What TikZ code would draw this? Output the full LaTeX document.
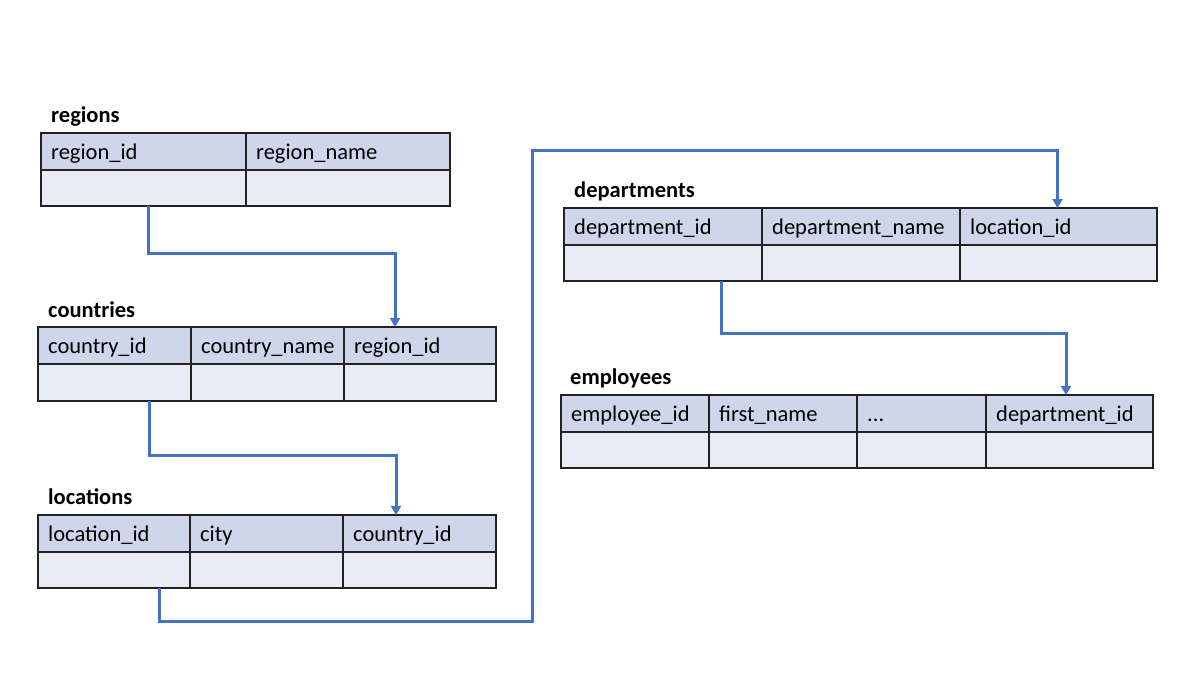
\documentclass[tikz,border=0pt]{standalone}
\usepackage{fontspec}
\setmainfont{Carlito}
\usetikzlibrary{arrows.meta}
\definecolor{hdr}{HTML}{CFD5EA}
\definecolor{bdy}{HTML}{E9EBF5}
\definecolor{fkblue}{HTML}{4472C4}
\definecolor{edgecol}{HTML}{222222}
\newcommand{\mkcell}[6]{\node[#2, minimum width={(#5-#3)*1pt}, minimum height={(#6-#4)*1pt}] (#1) at (#3,#4) {};}
\newcommand{\mktxt}[2]{\node[txt] (#1-t) at ([xshift=10pt,yshift=-26.5pt]#1.north west) {#2};}
\begin{document}
\begin{tikzpicture}[x=1pt,y=-1pt,
  cell/.style={draw=edgecol, line width=1.3pt, anchor=north west, inner sep=0pt, outer sep=0pt},
  hcell/.style={cell, fill=hdr},
  bcell/.style={cell, fill=bdy},
  txt/.style={anchor=base west, inner sep=0pt, font=\fontsize{22.5}{27}\selectfont, text=black},
  ttl/.style={anchor=base west, inner sep=0pt, font=\fontsize{22.5}{27}\selectfont\bfseries, text=black},
  fklink/.style={draw=fkblue, line width=3pt, line join=miter, -{Triangle[width=10pt,length=9pt]}}]
\useasboundingbox (0,0) rectangle (1200,675);

% regions
\node[ttl] (t-regions) at (51,122) {regions};
\mkcell{r-h1}{hcell}{41}{133}{246}{170}
\mkcell{r-h2}{hcell}{246}{133}{450}{170}
\mkcell{r-b1}{bcell}{41}{170}{246}{206}
\mkcell{r-b2}{bcell}{246}{170}{450}{206}
\mktxt{r-h1}{region\_id}
\mktxt{r-h2}{region\_name}

% countries
\node[ttl] (t-countries) at (48,317) {countries};
\mkcell{c-h1}{hcell}{38}{327}{191}{364}
\mkcell{c-h2}{hcell}{191}{327}{344}{364}
\mkcell{c-h3}{hcell}{344}{327}{496}{364}
\mkcell{c-b1}{bcell}{38}{364}{191}{401}
\mkcell{c-b2}{bcell}{191}{364}{344}{401}
\mkcell{c-b3}{bcell}{344}{364}{496}{401}
\mktxt{c-h1}{country\_id}
\mktxt{c-h2}{country\_name}
\mktxt{c-h3}{region\_id}

% locations
\node[ttl] (t-locations) at (48,504) {locations};
\mkcell{l-h1}{hcell}{38}{515}{190}{552}
\mkcell{l-h2}{hcell}{190}{515}{343}{552}
\mkcell{l-h3}{hcell}{343}{515}{496}{552}
\mkcell{l-b1}{bcell}{38}{552}{190}{588}
\mkcell{l-b2}{bcell}{190}{552}{343}{588}
\mkcell{l-b3}{bcell}{343}{552}{496}{588}
\mktxt{l-h1}{location\_id}
\mktxt{l-h2}{city}
\mktxt{l-h3}{country\_id}

% departments
\node[ttl] (t-departments) at (574,197) {departments};
\mkcell{d-h1}{hcell}{564}{208}{762}{245}
\mkcell{d-h2}{hcell}{762}{208}{960}{245}
\mkcell{d-h3}{hcell}{960}{208}{1157}{245}
\mkcell{d-b1}{bcell}{564}{245}{762}{281}
\mkcell{d-b2}{bcell}{762}{245}{960}{281}
\mkcell{d-b3}{bcell}{960}{245}{1157}{281}
\mktxt{d-h1}{department\_id}
\mktxt{d-h2}{department\_name}
\mktxt{d-h3}{location\_id}

% employees
\node[ttl] (t-employees) at (570,384) {employees};
\mkcell{e-h1}{hcell}{561}{395}{709}{432}
\mkcell{e-h2}{hcell}{709}{395}{857}{432}
\mkcell{e-h3}{hcell}{857}{395}{986}{432}
\mkcell{e-h4}{hcell}{986}{395}{1153}{432}
\mkcell{e-b1}{bcell}{561}{432}{709}{468}
\mkcell{e-b2}{bcell}{709}{432}{857}{468}
\mkcell{e-b3}{bcell}{857}{432}{986}{468}
\mkcell{e-b4}{bcell}{986}{432}{1153}{468}
\mktxt{e-h1}{employee\_id}
\mktxt{e-h2}{first\_name}
\mktxt{e-h3}{...}
\mktxt{e-h4}{department\_id}

% connectors
\draw[fklink] ([xshift=4.5pt]r-b1.south) -- ++(0,47) -| ([xshift=-25pt]c-h3.north);
\draw[fklink] ([xshift=34.5pt]c-b1.south) -- ++(0,54) -| ([xshift=-23.5pt]l-h3.north);
\draw[fklink] ([xshift=45pt]l-b1.south) -- ++(0,33) -| (532,150) -| ([xshift=-1pt]d-h3.north);
\draw[fklink] ([xshift=58pt]d-b1.south) -- ++(0,52) -| ([xshift=-3.5pt]e-h4.north);
\end{tikzpicture}
\end{document}
